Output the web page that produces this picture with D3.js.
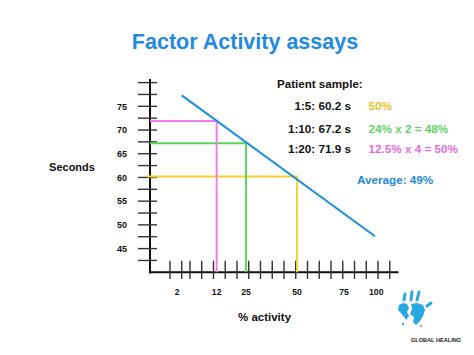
<!DOCTYPE html>
<html>
<head>
<meta charset="utf-8">
<script src="https://cdn.jsdelivr.net/npm/d3@7"></script>
<style>
  html, body { margin: 0; padding: 0; background: #fff; }
  svg { display: block; font-family: "Liberation Sans", Arial, Helvetica, sans-serif; }
</style>
</head>
<body>
<svg id="chart" width="474" height="355"></svg>
<script>
// ---- data ----
const title = "Factor Activity assays";
const yLabelValues = [45, 50, 55, 60, 65, 70, 75];
const yMinorTicks = [42.5, 45, 47.5, 50, 52.5, 55, 57.5, 60, 62.5, 65, 67.5, 70, 72.5, 75, 77.5, 80];
const activityLabels = [2, 12, 25, 50, 75, 100];
// position of each activity label on the hand-drawn grid (grid units)
const activityGrid = [2.3, 5.67, 8.17, 12.5, 16.5, 19.25];
const xMinorTicks = [1.7, 2.7, 3.4, 4.4, 5.4, 6.4, 7.4, 8.4, 9.4, 10.4, 11.4, 12.4, 13.4, 14.4, 15.4, 16.4, 17.4, 18.4, 19.4, 20.4];
const dilutions = ["1:5", "1:10", "1:20"];
const sampleSeconds = [60.2, 67.2, 71.9];
const sampleActivity = [50, 25, 12];
const results = ["50%", "24% x 2 = 48%", "12.5% x 4 = 50%"];
const sampleColors = ["#f3cf2a", "#55d855", "#f07cf0"];
const textColors = ["#e9c21f", "#5fd35f", "#e56be3"];
const curveActivity = [3.2, 99];
const curveSeconds = [77.3, 47.6];
const averageText = "Average: 49%";

// ---- scales ----
const svg = d3.select("#chart");
const gridX = d3.scaleLinear().domain([0, 21.1]).range([150, 398]);
const actToGrid = d3.scaleLinear().domain(activityLabels).range(activityGrid);
const x = v => gridX(actToGrid(v));
const y = d3.scaleLinear().domain([40, 80]).range([272.3, 82.6]);

// title
svg.append("text").attr("x", 245).attr("y", 48.5).attr("text-anchor", "middle")
  .attr("font-size", 21.5).attr("font-weight", "bold").attr("fill", "#1f8ae3").text(title);

// y axis
svg.append("line").attr("x1", 150).attr("x2", 150).attr("y1", 79).attr("y2", 273.3)
  .attr("stroke", "#111").attr("stroke-width", 2);
svg.append("g").selectAll("line").data(yMinorTicks).join("line")
  .attr("x1", 138).attr("x2", 157)
  .attr("y1", d => y(d)).attr("y2", d => y(d))
  .attr("stroke", "#333").attr("stroke-width", 1.4);
svg.append("g").selectAll("text").data(yLabelValues).join("text")
  .attr("x", 127).attr("y", d => y(d) + 3.3).attr("text-anchor", "end")
  .attr("font-size", 9).attr("font-weight", "bold").attr("fill", "#111").text(d => d);

// x axis
svg.append("line").attr("x1", 149).attr("x2", 398.5).attr("y1", 272.3).attr("y2", 272.3)
  .attr("stroke", "#111").attr("stroke-width", 2);
svg.append("g").selectAll("line").data(xMinorTicks).join("line")
  .attr("x1", d => gridX(d)).attr("x2", d => gridX(d))
  .attr("y1", 260.7).attr("y2", 279)
  .attr("stroke", "#333").attr("stroke-width", 1.4);
svg.append("g").selectAll("text").data(activityLabels).join("text")
  .attr("x", d => x(d)).attr("y", 295).attr("text-anchor", "middle")
  .attr("font-size", 8.6).attr("font-weight", "bold").attr("fill", "#111").text(d => d);

// axis titles
svg.append("text").attr("x", 72).attr("y", 171.3).attr("text-anchor", "middle")
  .attr("font-size", 11).attr("font-weight", "bold").attr("fill", "#111").text("Seconds");
svg.append("text").attr("x", 264.5).attr("y", 321).attr("text-anchor", "middle")
  .attr("font-size", 11.5).attr("font-weight", "bold").attr("fill", "#111").text("% activity");

// reading lines
const samples = dilutions.map((d, i) => ({ dil: d, sec: sampleSeconds[i], act: sampleActivity[i],
  res: results[i], color: sampleColors[i], tcolor: textColors[i] }));
const g = svg.append("g");
samples.forEach((s, i) => {
  const startX = i === 0 ? 147 : 150;
  g.append("path")
    .attr("d", `M${startX},${y(s.sec)}H${x(s.act)}V${y(40)}`)
    .attr("fill", "none").attr("stroke", s.color).attr("stroke-width", 1.9);
});

// standard curve
const curve = curveActivity.map((a, i) => [x(a), y(curveSeconds[i])]);
svg.append("path").attr("d", d3.line()(curve))
  .attr("stroke", "#1a8ee0").attr("stroke-width", 2).attr("fill", "none");

// annotations
svg.append("text").attr("x", 277).attr("y", 87.7)
  .attr("font-size", 11.6).attr("font-weight", "bold").attr("fill", "#111").text("Patient sample:");
const rowBase = [110, 133.3, 152.7];
samples.forEach((s, i) => {
  svg.append("text").attr("x", 351).attr("y", rowBase[i]).attr("text-anchor", "end")
    .attr("font-size", 11.7).attr("font-weight", "bold").attr("fill", "#111")
    .text(`${s.dil}: ${s.sec} s`);
  svg.append("text").attr("x", 368.5).attr("y", rowBase[i])
    .attr("font-size", 11.7).attr("font-weight", "bold").attr("fill", s.tcolor)
    .text(s.res);
});
svg.append("text").attr("x", 357).attr("y", 184)
  .attr("font-size", 11.7).attr("font-weight", "bold").attr("fill", "#1f8ae3").text(averageText);

// logo (hand)
const logo = svg.append("g").attr("fill", "#2aa8e2").attr("stroke", "none");
const fingerStroke = { stroke: "#2aa8e2", "stroke-width": 3, "stroke-linecap": "round" };
[[405, 294, 404, 300], [412, 292, 411, 300], [419, 292, 417, 300], [431, 303, 427, 306]].forEach(f => {
  const l = logo.append("line").attr("x1", f[0]).attr("y1", f[1]).attr("x2", f[2]).attr("y2", f[3]);
  Object.entries(fingerStroke).forEach(([k, v]) => l.attr(k, v));
});
logo.append("path").attr("d",
  "M399,305 L403,303 L407,304 L409,308 L407,312 L409,316 L406,320 L404,317 L401,313 L398,310 Z");
logo.append("path").attr("d",
  "M411,304 L417,303 L423,305 L425,310 L423,316 L420,321 L416,325 L413,322 L414,317 L410,314 L412,309 Z");
logo.append("circle").attr("cx", 403).attr("cy", 324).attr("r", 1.2);
logo.append("circle").attr("cx", 421).attr("cy", 326).attr("r", 1);
svg.append("text").attr("x", 436).attr("y", 341.5).attr("text-anchor", "middle")
  .attr("font-size", 5.6).attr("font-weight", "bold").attr("fill", "#222").text("GLOBAL HEALING");
</script>
</body>
</html>
